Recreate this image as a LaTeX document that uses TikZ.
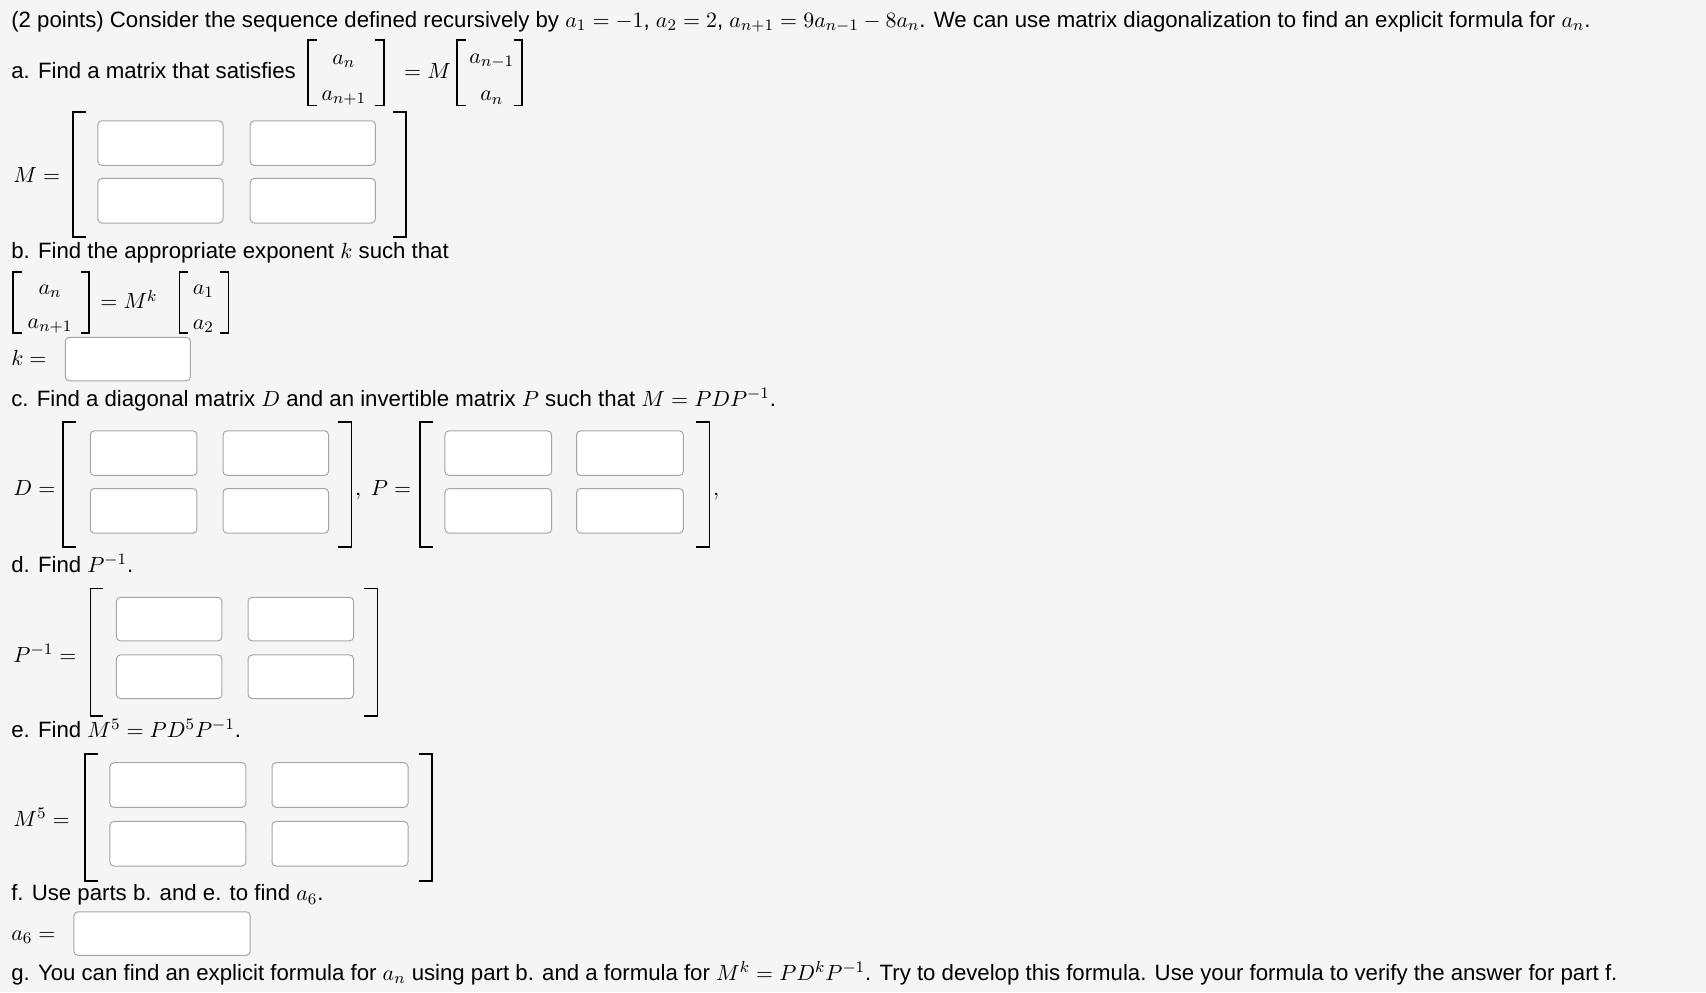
\documentclass[tikz,border=0pt]{standalone}
\usepackage{fontspec}
\setmainfont{Liberation Sans}
\begin{document}
\begin{tikzpicture}[x=0.544pt,y=-0.544pt,
  txt/.style={anchor=base west,inner sep=0pt,font=\fontsize{11.1}{13}\selectfont},
  mth/.style={inner sep=0pt,font=\fontsize{11.1}{13}\selectfont},
  br/.style={line width=0.8pt,black},
  inbox/.style={draw=gray!70,fill=white,rounded corners=2pt,line width=0.5pt}]
\fill[gray!8] (0,0) rectangle (1568,912);
\useasboundingbox (0,0) rectangle (1568,912);
\newcommand\lbr[4]{\draw[br] ({#1+#4},#2) -- (#1,#2) -- (#1,#3) -- ({#1+#4},#3);}
\newcommand\rbr[4]{\draw[br] ({#1-#4},#2) -- (#1,#2) -- (#1,#3) -- ({#1-#4},#3);}
\newcommand\ibox[4]{\draw[inbox] (#1,#2) rectangle (#3,#4);}
% line 1
\node[txt] (t1) at (10,25) {(2 points) Consider the sequence defined recursively by $a_1=-1$, $a_2=2$, $a_{n+1}=9a_{n-1}-8a_n$. We can use matrix diagonalization to find an explicit formula for $a_n$.};
% a
\node[txt] (ta) at (10,72) {a. Find a matrix that satisfies};
\lbr{283}{37}{97}{8}\rbr{353}{37}{97}{8}
\node[mth] (a1) at (316,56) {$a_n$};
\node[mth] (a2) at (316,90) {$a_{n+1}$};
\node[mth,anchor=base] (aeq) at (393,72) {$= M$};
\lbr{420}{37}{97}{8}\rbr{480}{37}{97}{8}
\node[mth] (a3) at (452,56) {$a_{n-1}$};
\node[mth] (a4) at (452,90) {$a_n$};
\node[txt] (Meq) at (12,168) {$M=$};
\lbr{67}{103}{218}{12}\rbr{373}{103}{218}{12}
\ibox{90}{111}{205}{152}\ibox{230}{111}{345}{152}
\ibox{90}{164}{205}{205}\ibox{230}{164}{345}{205}
% b
\node[txt] (tb) at (10,238) {b. Find the appropriate exponent $k$ such that};
\lbr{12}{250}{306}{8}\rbr{82}{250}{306}{8}
\node[mth] (b1) at (46,268) {$a_n$};
\node[mth] (b2) at (46,300) {$a_{n+1}$};
\node[mth,anchor=base west] (beq) at (92,284) {$= M^k$};
\lbr{165}{250}{306}{8}\rbr{210}{250}{306}{8}
\node[mth] (b3) at (187,268) {$a_1$};
\node[mth] (b4) at (187,300) {$a_2$};
\node[txt] (keq) at (10,336) {$k=$};
\ibox{60}{310}{175}{350}
% c
\node[txt] (tc) at (10,374) {c. Find a diagonal matrix $D$ and an invertible matrix $P$ such that $M=PDP^{-1}$.};
\node[txt] (Deq) at (12,455) {$D=$};
\lbr{58}{388}{503}{12}\rbr{323}{388}{503}{12}
\ibox{83}{396}{181}{437}\ibox{205}{396}{302}{437}
\ibox{83}{449}{181}{490}\ibox{205}{449}{302}{490}
\node[txt] (Peq) at (326,455) {$,\ P=$};
\lbr{386}{388}{503}{12}\rbr{652}{388}{503}{12}
\ibox{409}{396}{507}{437}\ibox{530}{396}{628}{437}
\ibox{409}{449}{507}{490}\ibox{530}{449}{628}{490}
\node[txt] (comma) at (655,455) {$,$};
% d
\node[txt] (td) at (10,526) {d. Find $P^{-1}$.};
\node[txt] (Pieq) at (12,609) {$P^{-1}=$};
\lbr{83}{541}{658}{12}\rbr{347}{541}{658}{12}
\ibox{107}{549}{204}{589}\ibox{228}{549}{325}{589}
\ibox{107}{602}{204}{642}\ibox{228}{602}{325}{642}
% e
\node[txt] (te) at (10,678) {e. Find $M^5=PD^5P^{-1}$.};
\node[txt] (M5eq) at (12,760) {$M^5=$};
\lbr{78}{693}{810}{12}\rbr{397}{693}{810}{12}
\ibox{101}{701}{226}{742}\ibox{250}{701}{375}{742}
\ibox{101}{755}{226}{796}\ibox{250}{755}{375}{796}
% f
\node[txt] (tf) at (10,828) {f. Use parts b. and e. to find $a_6$.};
\node[txt] (a6eq) at (10,864) {$a_6=$};
\ibox{68}{838}{230}{878}
% g
\node[txt] (tg) at (10,901) {g. You can find an explicit formula for $a_n$ using part b. and a formula for $M^k=PD^kP^{-1}$. Try to develop this formula. Use your formula to verify the answer for part f.};
\end{tikzpicture}
\end{document}
